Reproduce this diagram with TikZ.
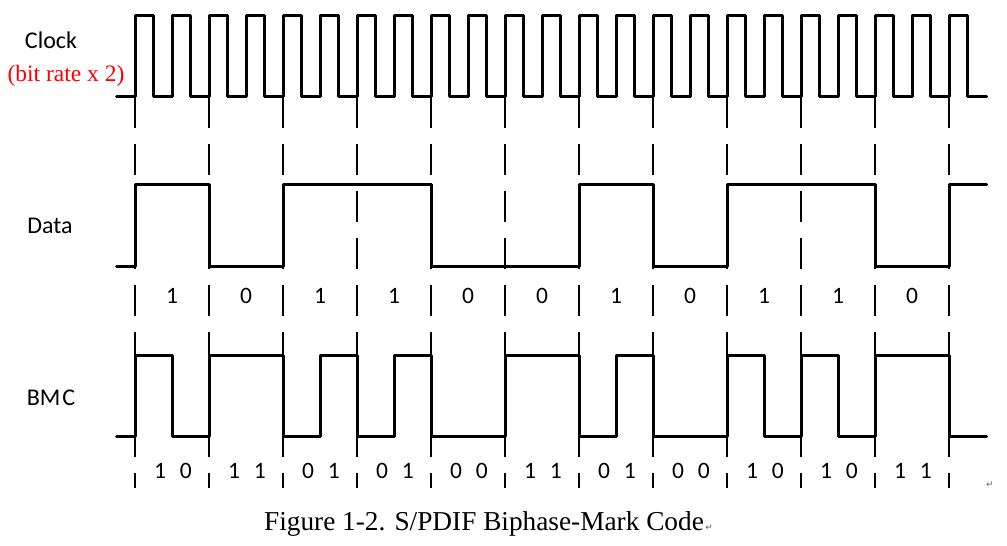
\documentclass[tikz,border=0pt]{standalone}
\usepackage{fontspec}
\setmainfont{Liberation Serif}
\newfontfamily\calfont{Carlito}
\newfontfamily\dvfont{DejaVu Sans}
\begin{document}
\begin{tikzpicture}[x=1pt,y=-1pt,
  wave/.style={line width=3pt, line join=round, line cap=round},
  guide/.style={line width=1.1pt, dash pattern=on 31pt off 16pt},
  sig/.style={font=\calfont\fontsize{24}{28}\selectfont, inner sep=0pt},
  digit/.style={font=\calfont\fontsize{23.5}{28}\selectfont, inner sep=0pt},
  redlbl/.style={font=\fontsize{23.5}{28}\selectfont, text=red, inner sep=0pt},
  captext/.style={font=\fontsize{27.3}{32}\selectfont, inner sep=0pt},
  pmark/.style={font=\dvfont\fontsize{9}{10}\selectfont, text=black!60, inner sep=0pt}]
\useasboundingbox (0,0) rectangle (1007,546);
\fill[white] (0,0) rectangle (1007,546);

% vertical bit-boundary guides
\foreach \i in {0,...,11}
  \draw[guide] ({135+74*\i},96.7) -- ({135+74*\i},488);

% clock
\draw[wave] (116.7,96.7) \foreach \k in {0,...,22} {
  -- ({135+37*\k},96.7) -- ({135+37*\k},15) -- ({153.5+37*\k},15) -- ({153.5+37*\k},96.7) }
  -- (986.7,96.7);

% data
\def\H{184}\def\L{266.7}
\draw[wave] (116.7,\L) -- (135,\L) -- (135,\H) -- (209,\H) -- (209,\L) -- (283,\L) -- (283,\H)
  -- (431,\H) -- (431,\L) -- (579,\L) -- (579,\H) -- (653,\H) -- (653,\L) -- (727,\L) -- (727,\H)
  -- (875,\H) -- (875,\L) -- (949,\L) -- (949,\H) -- (986.7,\H);

% BMC
\def\H{355}\def\L{436.5}
\draw[wave] (116.7,\L) -- (135,\L) -- (135,\H) -- (172,\H) -- (172,\L) -- (209,\L) -- (209,\H)
  -- (283,\H) -- (283,\L) -- (320,\L) -- (320,\H) -- (357,\H) -- (357,\L) -- (394,\L) -- (394,\H)
  -- (431,\H) -- (431,\L) -- (505,\L) -- (505,\H) -- (579,\H) -- (579,\L) -- (616,\L) -- (616,\H)
  -- (653,\H) -- (653,\L) -- (727,\L) -- (727,\H) -- (764,\H) -- (764,\L) -- (801,\L) -- (801,\H)
  -- (838,\H) -- (838,\L) -- (875,\L) -- (875,\H) -- (949,\H) -- (949,\L) -- (986.7,\L);

% signal names
\node[sig] (clk) at (51,40) {Clock};
\node[redlbl] (rate) at (66,75.5) {(bit rate x 2)};
\node[sig] (data) at (50,226) {Data};
\node[sig] (bmc) at (51,397.5) {BM\kern2pt C};

% data bits
\foreach \b [count=\i from 0] in {1,0,1,1,0,0,1,0,1,1,0}
  \node[digit] (d\i) at ({172+74*\i},296) {\b};

% BMC half-cells
\foreach \a/\c [count=\i from 0] in {1/0,1/1,0/1,0/1,0/0,1/1,0/1,0/0,1/0,1/0,1/1}
  \node[digit] (m\i) at ({173+74*\i},470.5) {\a\hspace{14pt}\c};

% caption and paragraph marks
\node[captext, anchor=base] (caption) at (484,530) {Figure 1-2. S/PDIF Biphase-Mark Code};
\node[pmark, anchor=base west] (pm1) at ([xshift=1pt]caption.base east) {↵};
\node[pmark] (pm2) at (990,485) {↵};
\end{tikzpicture}
\end{document}
